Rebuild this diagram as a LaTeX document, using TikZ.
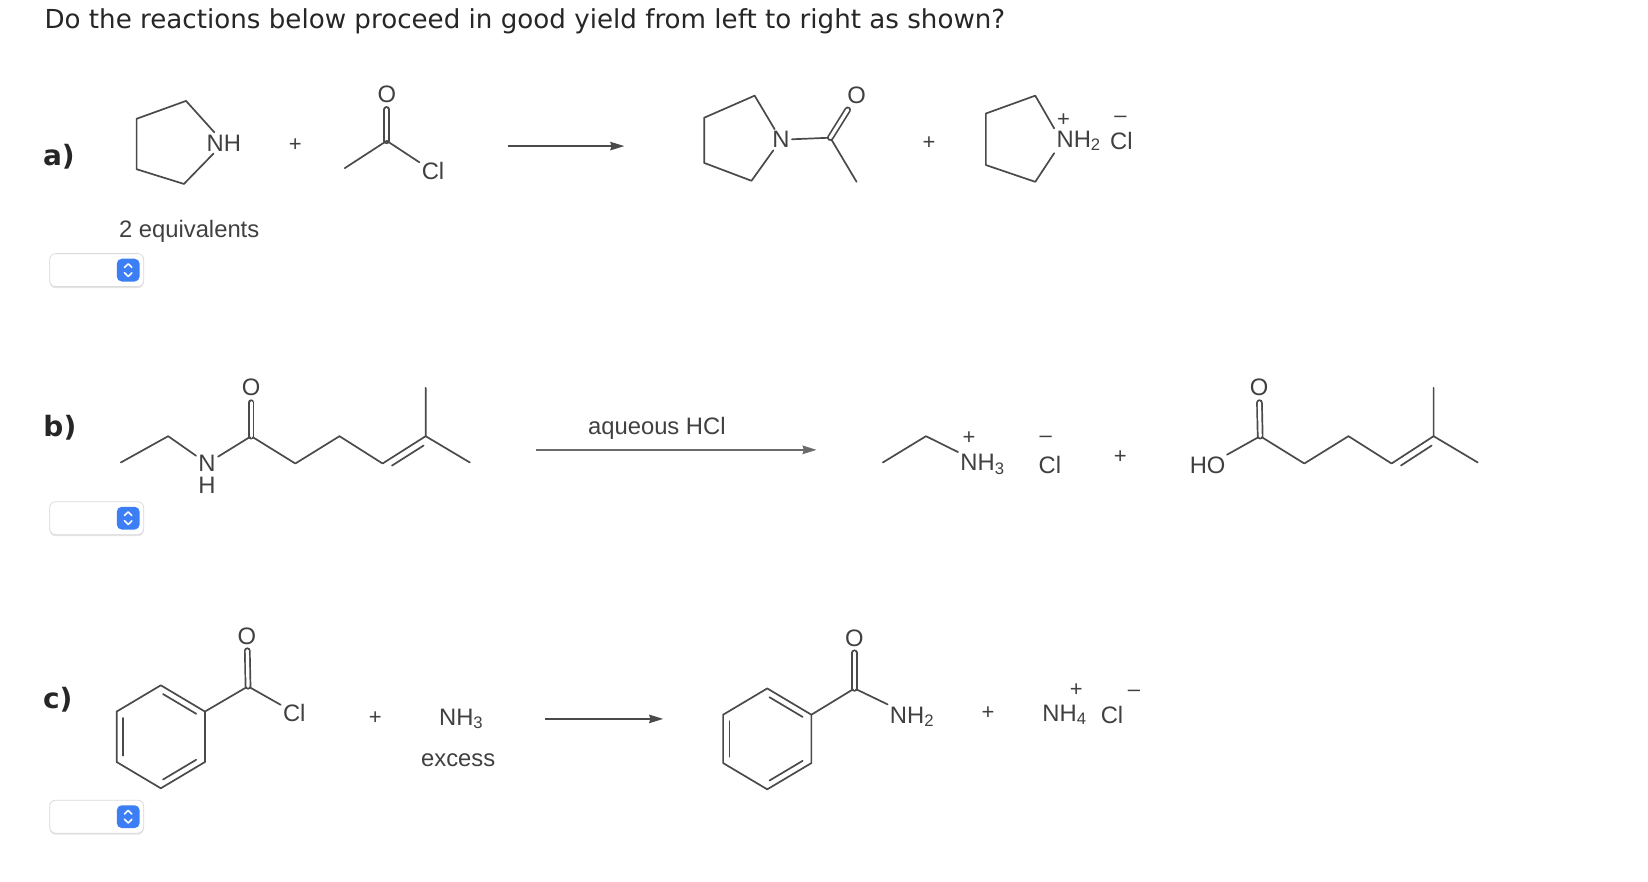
\documentclass[tikz,border=0pt]{standalone}
\usepackage{fontspec}
\setmainfont{Liberation Sans}
\newfontfamily\titlefont{DejaVu Sans}
\usetikzlibrary{arrows.meta,calc}
\definecolor{bondgray}{HTML}{4A4A4A}
\definecolor{selblue}{HTML}{3B7EF6}
\tikzset{
  bond/.style={draw=bondgray,line width=.85pt,line cap=round,line join=round},
  dblbond/.style={bond,double=white,double distance=1.6pt,shorten <=2pt},
  atom/.style={text=black!75,font=\fontsize{11.9}{13}\selectfont,inner sep=1pt,yshift=-.5pt},
  charge/.style={text=black!75,font=\fontsize{11}{13}\selectfont,inner sep=0pt,yshift=-1pt},
  rxnarrow/.style={draw=bondgray,line width=.85pt,-{Stealth[length=7pt,width=4.2pt,inset=.6pt]}},
  partlabel/.style={font=\titlefont\bfseries\fontsize{14}{16}\selectfont,inner sep=0pt,text=black!85,yshift=-.5pt},
  selbox/.style={draw=black!14,fill=white,rounded corners=3pt,minimum width=47pt,minimum height=16.5pt,inner sep=0pt},
  selbutton/.style={fill=selblue,rounded corners=2.5pt,minimum width=11.4pt,minimum height=11.4pt,inner sep=0pt}
}
% second line of a double bond, on one side of the first
\newcommand{\innerbond}[3][3.4pt]{%
  \draw[bond,shorten >=#1,shorten <=#1] ($(#2)!#1!-90:(#3)$) -- ($(#3)!#1!90:(#2)$);}
\begin{document}
\begin{tikzpicture}[x=0.5255pt,y=-0.5255pt]
  \useasboundingbox (0,0) rectangle (1568,839);
  \node[anchor=west,inner sep=0pt,text=black!85,font=\titlefont\fontsize{13.07}{16}\selectfont] (title) at (42,20)
    {Do the reactions below proceed in good yield from left to right as shown?};

  \node[partlabel] (parta) at (56,148) {a)};
  \node[partlabel] (partb) at (57,406) {b)};
  \node[partlabel] (partc) at (55,665) {c)};

  \foreach \selname/\sely in {sela/257,selb/493,selc/777} {
    \node[selbox,fill=black!10,draw=none] at (92,\sely+1.5) {};
    \node[selbox] (\selname) at (92,\sely) {};
    \node[selbutton] (\selname btn) at (122,\sely) {};
    \draw[white,line width=.8pt,line cap=round,line join=round]
      (118.5,\sely-2.5) -- (122,\sely-6) -- (125.5,\sely-2.5)
      (118.5,\sely+2.5) -- (122,\sely+6) -- (125.5,\sely+2.5);
  }

  % a) reactants
  \coordinate (pa1) at (177,96);
  \coordinate (pa2) at (130,113);
  \coordinate (pa3) at (130,161);
  \coordinate (pa4) at (175,175);
  \node[atom] (nha) at (213,135) {NH};
  \draw[bond] (nha) -- (pa1) -- (pa2) -- (pa3) -- (pa4) -- (nha);
  \node[atom] (eqv) at (180,219) {2 equivalents};
  \node[charge] (plusa) at (281,136) {+};
  \node[atom] (oa) at (368,89) {O};
  \coordinate (ca) at (368,134);
  \coordinate (mea) at (328,160);
  \node[atom] (cla) at (412,162) {Cl};
  \draw[dblbond] (oa) -- (ca);
  \draw[bond] (mea) -- (ca) -- (cla);
  \coordinate (arrowas) at (483,139);
  \coordinate (arrowae) at (594,139);
  \draw[rxnarrow] (arrowas) -- (arrowae);

  % a) products
  \coordinate (pb1) at (718,91);
  \coordinate (pb2) at (670,112);
  \coordinate (pb3) at (670,155);
  \coordinate (pb4) at (715,172);
  \node[atom] (nb) at (743,132) {N};
  \coordinate (cb) at (790,131);
  \node[atom] (ob) at (815,90) {O};
  \coordinate (meb) at (815,173);
  \draw[bond] (nb) -- (pb1) -- (pb2) -- (pb3) -- (pb4) -- (nb);
  \draw[bond] (nb) -- (cb) -- (meb);
  \draw[dblbond] (ob) -- (cb);
  \node[charge] (plusb) at (884,134) {+};
  \coordinate (pc1) at (985,91);
  \coordinate (pc2) at (938,108);
  \coordinate (pc3) at (938,157);
  \coordinate (pc4) at (985,173);
  \node[atom,anchor=west] (nhc) at (1003,133) {NH\textsubscript{2}};
  \node[charge] (plusc) at (1012,112) {+};
  \node[atom] (clc) at (1067,133) {Cl};
  \node[charge] (minusc) at (1066,112) {--};
  \draw[bond] (nhc.north west) -- (pc1) -- (pc2) -- (pc3) -- (pc4) -- (nhc.south west);

  % b) reactant
  \coordinate (ea1) at (115,440);
  \coordinate (ea2) at (160,415);
  \node[atom] (nd) at (197,440) {N};
  \node[atom] (hd) at (197,461) {H};
  \coordinate (cd) at (239,415);
  \node[atom] (od) at (239,368) {O};
  \coordinate (d1) at (281,441);
  \coordinate (d2) at (323,415);
  \coordinate (d3) at (364,441);
  \coordinate (d4) at (405,415);
  \coordinate (d5) at (405,369);
  \coordinate (d6) at (447,440);
  \draw[bond] (ea1) -- (ea2) -- (nd) -- (cd) -- (d1) -- (d2) -- (d3) -- (d4) -- (d5);
  \draw[bond] (d4) -- (d6);
  \draw[dblbond] (od) -- (cd);
  \innerbond{d3}{d4}
  \node[atom] (aqa) at (625,407) {aqueous HCl};
  \coordinate (arrowbs) at (510,428);
  \coordinate (arrowbe) at (777,428);
  \draw[rxnarrow,draw=black!58,line width=1.1pt] (arrowbs) -- (arrowbe);

  % b) products
  \coordinate (eb1) at (840,440);
  \coordinate (eb2) at (881,415);
  \node[atom] (nhe) at (935,441) {NH\textsubscript{3}};
  \draw[bond] (eb1) -- (eb2) -- (nhe.north west);
  \node[charge] (pluse) at (922,415) {+};
  \node[atom] (cle) at (999,441) {Cl};
  \node[charge] (minuse) at (995,416) {--};
  \node[charge] (plusf) at (1066,433) {+};
  \node[atom] (hof) at (1149,442) {HO};
  \coordinate (cf) at (1199,415);
  \node[atom] (of) at (1198,368) {O};
  \coordinate (f1) at (1241,441);
  \coordinate (f2) at (1283,415);
  \coordinate (f3) at (1324,441);
  \coordinate (f4) at (1364,415);
  \coordinate (f5) at (1364,369);
  \coordinate (f6) at (1406,440);
  \draw[bond] (hof) -- (cf) -- (f1) -- (f2) -- (f3) -- (f4) -- (f5);
  \draw[bond] (f4) -- (f6);
  \draw[dblbond] (of) -- (cf);
  \innerbond{f3}{f4}

  % c) reactants
  \coordinate (ga1) at (153,652);
  \coordinate (ga2) at (195,677);
  \coordinate (ga3) at (195,725);
  \coordinate (ga4) at (153,750);
  \coordinate (ga5) at (111,725);
  \coordinate (ga6) at (111,677);
  \coordinate (cg) at (236,653);
  \node[atom] (og) at (235,604) {O};
  \node[atom] (clg) at (280,677) {Cl};
  \draw[bond] (ga1) -- (ga2) -- (ga3) -- (ga4) -- (ga5) -- (ga6) -- cycle;
  \innerbond[3.2pt]{ga1}{ga2}
  \innerbond[3.2pt]{ga5}{ga6}
  \innerbond[3.2pt]{ga3}{ga4}
  \draw[bond] (ga2) -- (cg) -- (clg);
  \draw[dblbond] (og) -- (cg);
  \node[charge] (plusg) at (357,681) {+};
  \node[atom] (nhg) at (439,683) {NH\textsubscript{3}};
  \node[atom] (exc) at (436,722) {excess};
  \coordinate (arrowcs) at (519,684);
  \coordinate (arrowce) at (631,684);
  \draw[rxnarrow] (arrowcs) -- (arrowce);

  % c) products
  \coordinate (ha1) at (730,655);
  \coordinate (ha2) at (772,680);
  \coordinate (ha3) at (772,726);
  \coordinate (ha4) at (730,751);
  \coordinate (ha5) at (688,726);
  \coordinate (ha6) at (688,680);
  \coordinate (ch) at (813,655);
  \node[atom] (oh) at (813,606) {O};
  \node[atom] (nhh) at (868,681) {NH\textsubscript{2}};
  \draw[bond] (ha1) -- (ha2) -- (ha3) -- (ha4) -- (ha5) -- (ha6) -- cycle;
  \innerbond[3.2pt]{ha1}{ha2}
  \innerbond[3.2pt]{ha5}{ha6}
  \innerbond[3.2pt]{ha3}{ha4}
  \draw[bond] (ha2) -- (ch) -- (nhh.north west);
  \draw[dblbond] (oh) -- (ch);
  \node[charge] (plush) at (940,677) {+};
  \node[atom] (nhi) at (1013,679) {NH\textsubscript{4}};
  \node[charge] (plusi) at (1024,655) {+};
  \node[atom] (cli) at (1058,679) {Cl};
  \node[charge] (minusi) at (1079,658) {--};
\end{tikzpicture}
\end{document}
